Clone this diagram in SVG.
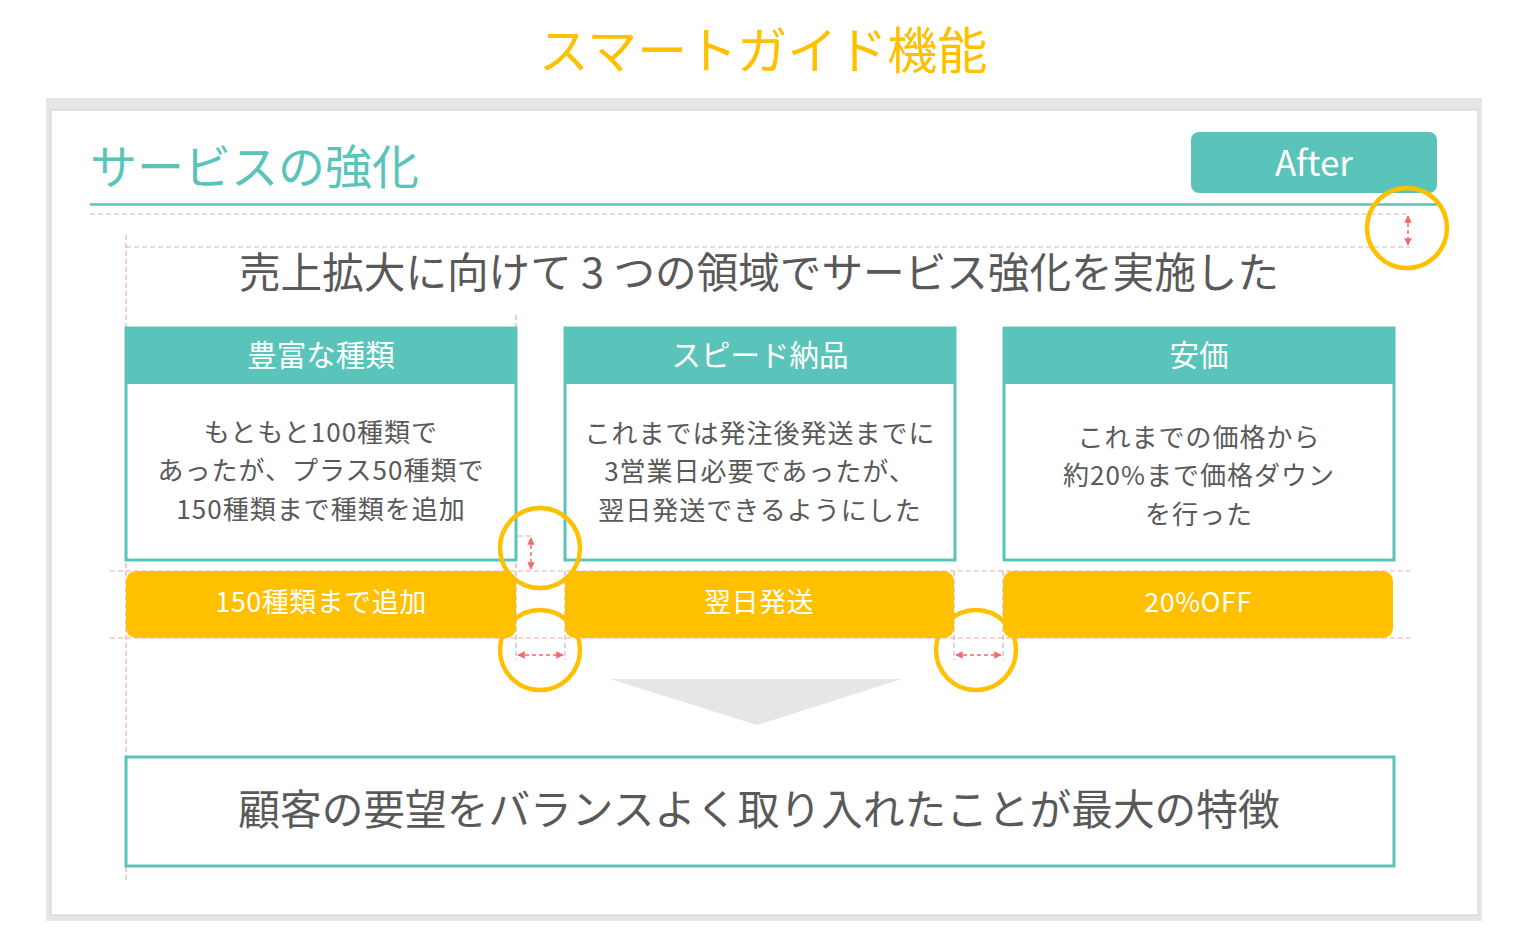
<svg xmlns="http://www.w3.org/2000/svg" width="1536" height="947" viewBox="0 0 1536 947">
<defs>
<style>
text{font-family:"Noto Sans CJK JP","Liberation Sans",sans-serif;}
.teal{fill:#5BC4BA;}
.card{fill:#fff;stroke:#5BC4BA;stroke-width:3;}
.hdr{fill:#5BC4BA;}
.ht{fill:#fff;font-size:29.5px;text-anchor:middle;}
.bt{fill:#595959;font-size:26px;letter-spacing:1px;text-anchor:middle;}
.ob{fill:#FFC000;}
.ot{fill:#fff;font-size:27px;letter-spacing:0.5px;text-anchor:middle;}
.gd{stroke:#bdbdbd;stroke-width:1.2;stroke-dasharray:5 3;fill:none;}
.rd{stroke:#F4A8A0;stroke-width:1.2;stroke-dasharray:5 3;fill:none;}
.ra{stroke:#F46A6A;stroke-width:1.5;stroke-dasharray:4 3;fill:none;marker-start:url(#ah);marker-end:url(#ah);}
.ring{fill:none;stroke:#FFC000;stroke-width:4.5;}
</style>
<marker id="ah" viewBox="0 0 10 10" refX="9" refY="5" markerWidth="5" markerHeight="5" orient="auto-start-reverse">
<path d="M0,0 L10,5 L0,10 z" fill="#F46A6A"/>
</marker>
</defs>
<rect width="1536" height="947" fill="#fff"/>
<g id="title">
<text x="763" y="69" style="font-size:50px;fill:#FFC000;text-anchor:middle;">スマートガイド機能</text>
</g>
<g id="frame">
<rect x="46" y="98" width="1436" height="823" fill="#e6e6e6"/>
<rect x="51" y="110" width="1427" height="805" fill="#fff" stroke="#d0d0d0" stroke-width="1"/>
</g>
<g id="heading">
<text x="90" y="184" class="teal" style="font-size:47px;">サービスの強化</text>
<line x1="90" y1="204.5" x2="1437" y2="204.5" stroke="#5BC4BA" stroke-width="2.5"/>
</g>
<g id="after">
<rect x="1191" y="132" width="246" height="61" rx="8" class="teal"/>
<text x="1314" y="176" style="font-size:35px;fill:#fff;text-anchor:middle;">After</text>
</g>
<g id="guides">
<line x1="90" y1="214" x2="1410" y2="214" class="gd"/>
<line x1="126" y1="247" x2="1410" y2="247" class="gd"/>
<line x1="126" y1="235" x2="126" y2="882" class="rd"/>
<line x1="516" y1="315" x2="516" y2="571" class="rd"/>
<line x1="126" y1="536" x2="531" y2="536" class="gd"/>
<line x1="110" y1="571" x2="1410" y2="571" class="rd"/>
<line x1="110" y1="638" x2="1410" y2="638" class="rd"/>
<line x1="516" y1="571" x2="516" y2="660" class="gd"/>
<line x1="565" y1="571" x2="565" y2="660" class="gd"/>
<line x1="954" y1="571" x2="954" y2="660" class="gd"/>
<line x1="1003" y1="571" x2="1003" y2="660" class="gd"/>
</g>
<g id="headline">
<text x="759" y="288" style="font-size:41.6px;fill:#595959;text-anchor:middle;">売上拡大に向けて 3 つの領域でサービス強化を実施した</text>
</g>
<g id="card1">
<rect x="126" y="328" width="390" height="232" class="card"/>
<rect x="126" y="328" width="390" height="56" class="hdr"/>
<text x="321" y="366" class="ht">豊富な種類</text>
<text x="321" y="442" class="bt">もともと100種類で</text>
<text x="321" y="480" class="bt">あったが、プラス50種類で</text>
<text x="321" y="519" class="bt">150種類まで種類を追加</text>
</g>
<g id="card2">
<rect x="565" y="328" width="390" height="232" class="card"/>
<rect x="565" y="328" width="390" height="56" class="hdr"/>
<text x="760" y="366" class="ht">スピード納品</text>
<text x="760" y="443" class="bt">これまでは発注後発送までに</text>
<text x="760" y="481" class="bt">3営業日必要であったが、</text>
<text x="760" y="520" class="bt">翌日発送できるようにした</text>
</g>
<g id="card3">
<rect x="1004" y="328" width="390" height="232" class="card"/>
<rect x="1004" y="328" width="390" height="56" class="hdr"/>
<text x="1199" y="366" class="ht">安価</text>
<text x="1199" y="447" class="bt">これまでの価格から</text>
<text x="1199" y="485" class="bt">約20%まで価格ダウン</text>
<text x="1199" y="524" class="bt">を行った</text>
</g>
<g id="rings">
<circle cx="1407" cy="228" r="40" class="ring"/>
<circle cx="540" cy="548" r="40" class="ring"/>
<circle cx="540" cy="650" r="40" class="ring"/>
<circle cx="976" cy="650" r="40" class="ring"/>
</g>
<g id="badge1">
<rect x="126" y="571" width="390" height="67" rx="10" class="ob"/>
<text x="321" y="612" class="ot">150種類まで追加</text>
</g>
<g id="badge2">
<rect x="565" y="571" width="389" height="67" rx="10" class="ob"/>
<text x="759" y="612" class="ot">翌日発送</text>
</g>
<g id="badge3">
<rect x="1003" y="571" width="390" height="67" rx="10" class="ob"/>
<text x="1198" y="612" class="ot">20%OFF</text>
</g>
<g id="connectors">
<line x1="1408" y1="216" x2="1408" y2="245" class="ra"/>
<line x1="531" y1="538" x2="531" y2="569" class="ra"/>
<line x1="518" y1="655" x2="563" y2="655" class="ra"/>
<line x1="956" y1="655" x2="1001" y2="655" class="ra"/>
</g>
<g id="arrow">
<polygon points="610,679 902,679 757,725" fill="#e6e6e6"/>
</g>
<g id="summary">
<rect x="126" y="757" width="1268" height="109" fill="#fff" stroke="#5BC4BA" stroke-width="3"/>
<text x="759" y="825" style="font-size:41.7px;fill:#595959;text-anchor:middle;">顧客の要望をバランスよく取り入れたことが最大の特徴</text>
</g>
</svg>
